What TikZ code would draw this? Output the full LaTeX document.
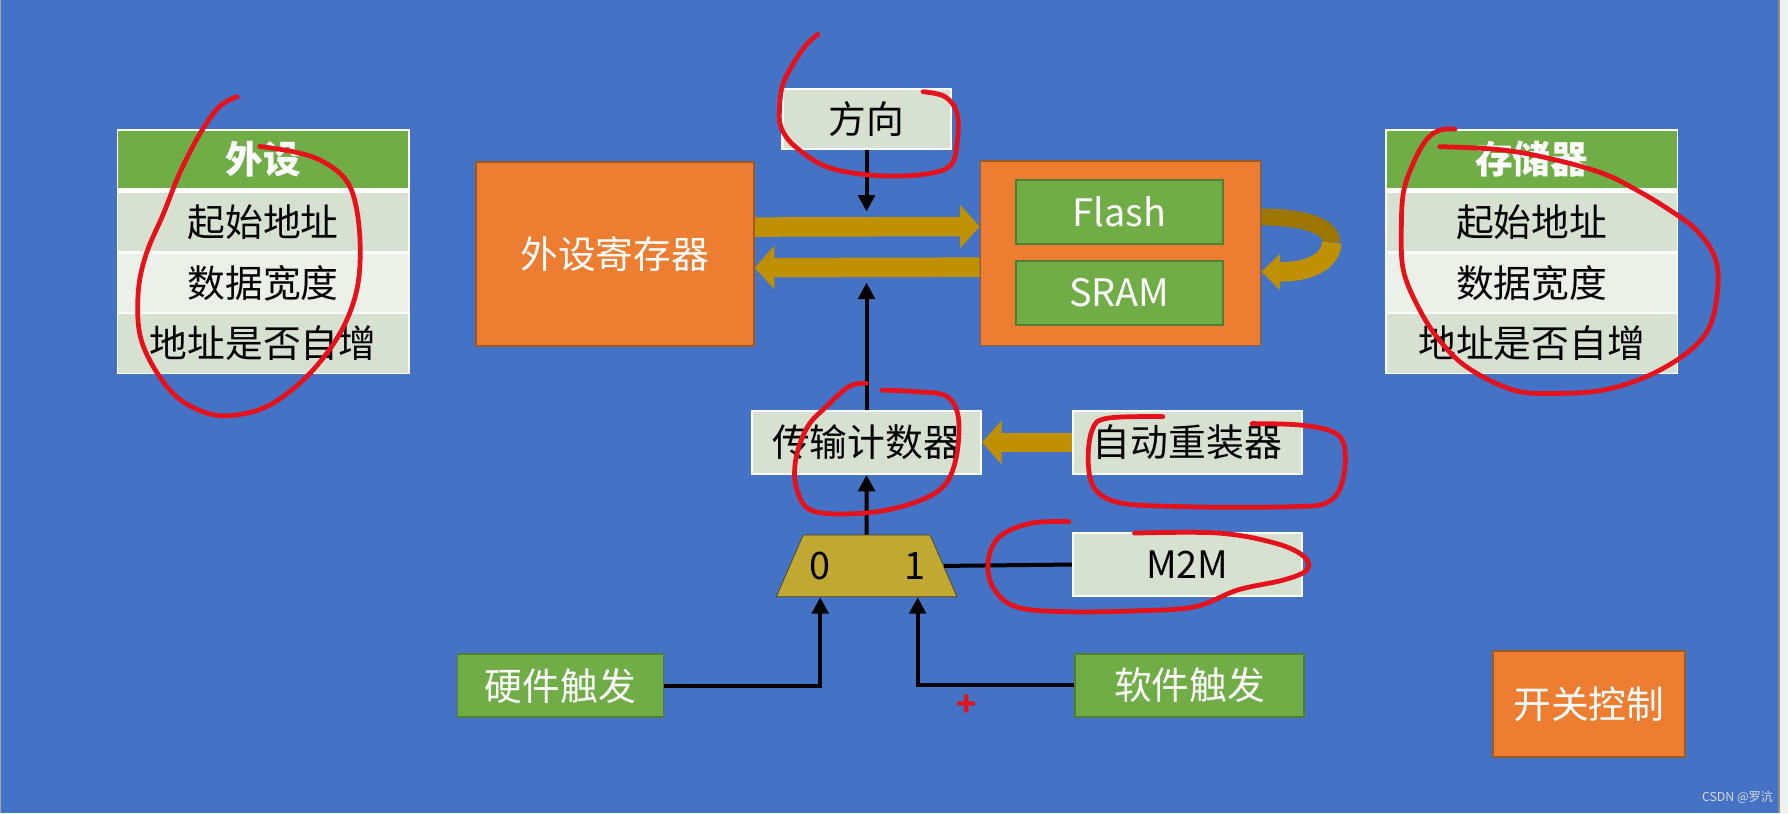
\documentclass[tikz,border=0pt]{standalone}
\usepackage{fontspec}
\setmainfont{Noto Sans CJK SC}
\usetikzlibrary{arrows.meta,shapes.geometric}
\definecolor{slideblue}{HTML}{4472C4}
\definecolor{boxgreen}{HTML}{70AD47}
\definecolor{greenedge}{HTML}{507E32}
\definecolor{boxorange}{HTML}{ED7D31}
\definecolor{orangeedge}{HTML}{9C5A22}
\definecolor{boxgray}{HTML}{D6E1D1}
\definecolor{rowlight}{HTML}{EBF0E8}
\definecolor{busgold}{HTML}{BF9000}
\definecolor{busdark}{HTML}{9C7600}
\definecolor{muxgold}{HTML}{C0A832}
\definecolor{penred}{HTML}{E5121B}
\newcommand\boxfont{\fontsize{21.5}{24}\selectfont}
\tikzset{
  lightbox/.style={draw=white, line width=1.2pt, fill=boxgray, inner sep=0pt, font=\boxfont},
  greenbox/.style={draw=greenedge, line width=1pt, fill=boxgreen, text=white, inner sep=0pt, font=\boxfont},
  orangebox/.style={draw=orangeedge, line width=1pt, fill=boxorange, text=white, inner sep=0pt, font=\boxfont},
  tabhead/.style={fill=boxgreen, text=white, inner sep=0pt, font=\boxfont\bfseries, minimum width=5.79cm, minimum height=1.144cm},
  tabrow/.style={fill=boxgray, inner sep=0pt, font=\boxfont, minimum width=5.79cm, minimum height=1.167cm},
  tabrowlight/.style={tabrow, fill=rowlight},
  mux/.style={trapezium, trapezium left angle=78, trapezium right angle=78, trapezium stretches=true,
    draw=black!60!muxgold, fill=muxgold, inner sep=2pt, minimum width=3.615cm, minimum height=1.236cm},
  sig/.style={line width=0.08cm, -{Triangle[length=0.33cm, width=0.33cm]}},
  bus/.style={busgold, line width=0.39cm, -{Triangle[length=0.39cm, width=0.85cm]}},
  redmark/.style={penred, line width=0.095cm, line cap=round, line join=round}
}
\begin{document}
\begin{tikzpicture}[x=0.02288cm, y=-0.02288cm]
\useasboundingbox (0,0) rectangle (1563,710.7);
\fill[slideblue] (0,0) rectangle (1555,710.7);
\fill[black!6] (1555,0) rectangle (1563,710.7);
\draw[black!45, line width=0.8pt] (1555,0) -- (1555,710.7);
\draw[black!35, line width=1pt] (0.5,0) -- (0.5,710.7);

\matrix (perTab) at (230,220) [fill=white, inner sep=1pt, row sep=0.045cm] {
  \node[tabhead] (perHead) {外设}; \\[0.06cm]
  \node[tabrow] (perAddr) {起始地址}; \\
  \node[tabrowlight] (perWidth) {数据宽度}; \\
  \node[tabrow] (perInc) {地址是否自增}; \\
};
\matrix (memTab) at (1339,220) [fill=white, inner sep=1pt, row sep=0.045cm] {
  \node[tabhead] (memHead) {存储器}; \\[0.06cm]
  \node[tabrow] (memAddr) {起始地址}; \\
  \node[tabrowlight] (memWidth) {数据宽度}; \\
  \node[tabrow] (memInc) {地址是否自增}; \\
};

\node[lightbox, minimum width=3.363cm, minimum height=1.213cm] (dirBox) at (757.5,104) {方向};
\node[orangebox, minimum width=5.56cm, minimum height=3.68cm] (regBox) at (537.5,222) {外设寄存器};
\node[orangebox, minimum width=5.6cm, minimum height=3.68cm] (memBox) at (979.5,221.5) {};
\node[greenbox, minimum width=4.141cm, minimum height=1.28cm] (flashBox) at (978.4,185.3) {Flash};
\node[greenbox, minimum width=4.141cm, minimum height=1.28cm] (sramBox) at (978.4,256) {SRAM};
\node[lightbox, minimum width=4.576cm, minimum height=1.258cm] (cntBox) at (757.5,386.7) {传输计数器};
\node[lightbox, minimum width=4.576cm, minimum height=1.258cm] (reloadBox) at (1038,386.7) {自动重装器};
\node[mux] (mux) at (757.6,494.7) {};
\node[font=\boxfont] (mux0) at (717,494.7) {0};
\node[font=\boxfont] (mux1) at (800,494.7) {1};
\node[lightbox, minimum width=4.576cm, minimum height=1.258cm] (m2mBox) at (1038,493.5) {M2M};
\node[greenbox, minimum width=4.118cm, minimum height=1.258cm] (hwBox) at (490,599.5) {硬件触发};
\node[greenbox, minimum width=4.576cm, minimum height=1.258cm] (swBox) at (1040,599) {软件触发};
\node[orangebox, minimum width=3.844cm, minimum height=2.128cm] (ctlBox) at (1389,615.5) {开关控制};
\node[text=penred, font=\fontsize{19}{19}\selectfont\bfseries] (cursor) at (845,617) {+};
\node[text=white!85!black, font=\fontsize{7}{8}\selectfont] (mark) at (1519,697) {CSDN @罗沆};

\coordinate (dirTip) at (757.5,185);
\coordinate (cntTip) at (757.5,247);
\coordinate (loopR) at (1164,212);

\draw[bus] ([yshift=0.538cm]regBox.east) -- ([yshift=0.538cm]memBox.west);
\draw[bus] ([yshift=-0.275cm]memBox.west) -- ([yshift=-0.275cm]regBox.east);
\draw[bus, -, busdark, line width=0.34cm] ([yshift=0.73cm]memBox.east) .. controls (1142,190) and (1164,198) .. (loopR);
\draw[bus, -{Triangle[length=0.37cm, width=0.7cm]}] (loopR) .. controls (1164,228) and (1145,238) .. ([yshift=-0.366cm]memBox.east);
\draw[bus] (reloadBox.west) -- (cntBox.east);

\draw[sig] (dirBox.south) -- (dirTip);
\draw[sig] (cntBox.north) -- (cntTip);
\draw[sig] (mux.north) -- (cntBox.south);
\draw[line width=0.08cm] (mux.east) -- (m2mBox.west);
\draw[sig] (hwBox.east) -| (mux.south -| mux0);
\draw[sig] (swBox.west) -| ([xshift=0.05cm]mux.south -| mux1);

\draw[redmark] plot[smooth, tension=0.6] coordinates {(207.5,84.5) (192,93) (175,116.5) (157,151.5) (143,186.5) (128,221.5) (121,253.5) (122,291) (134,320.5) (154.5,347) (180.6,361) (204,363) (233,355.5) (262,335) (285.5,309) (303,280) (313,247.7) (314.7,209.8) (310,174.8) (300,154.4) (279.7,139.9) (256.4,132.6) (227,128)};
\draw[redmark] plot[smooth, tension=0.6] coordinates {(715,30) (704,40) (692,58) (684,75) (681.4,95) (683,112) (695.2,128.2) (722.5,145.7) (760.5,153) (802,153) (829.7,145.7) (836.6,125.3) (836.6,99) (826,84.5) (807,80.2)};
\draw[redmark] plot[smooth, tension=0.6] coordinates {(1271.8,113) (1259,113.6) (1247,122) (1235.4,142.7) (1226.7,169) (1225,204) (1226.7,236) (1238,265) (1256,294.5) (1282,320.7) (1323,341) (1360.6,343.9) (1401.4,341) (1439,329.3) (1474,309) (1494.5,285.6) (1501.7,250.6) (1498.8,224.3) (1482.8,201) (1459.5,183.6) (1430.4,166) (1401.2,151.6) (1360.4,139.9) (1313.8,131.1) (1258.5,128.2)};
\draw[redmark] plot[smooth, tension=0.6] coordinates {(757.3,335) (742,338) (722,355.7) (706,373) (696,399.6) (696,425.6) (709,446) (747.5,449) (787.6,443) (821,428.5) (834.7,405) (838,367) (828,346.7) (801.3,342.4) (771.2,341)};
\draw[redmark] plot[smooth, tension=0.6] coordinates {(1016.5,364.2) (968,365.6) (954.7,376) (951.3,405) (958,428.5) (981.4,440) (1031.6,442.8) (1081.8,443.4) (1132,442.8) (1158.6,440) (1172,425.6) (1176,396.5) (1168,379) (1138,371.7) (1094.5,370.3)};
\draw[redmark] plot[smooth, tension=0.6] coordinates {(934.5,456) (901,457.4) (874,469) (864,489.5) (867.7,512.8) (887.8,530.3) (931.3,534.7) (998.3,533.8) (1045,530.3) (1082,515.7) (1122,507) (1142.3,498.3) (1140,486.6) (1115.4,475) (1065.3,466) (991.7,466)};
\end{tikzpicture}
\end{document}
